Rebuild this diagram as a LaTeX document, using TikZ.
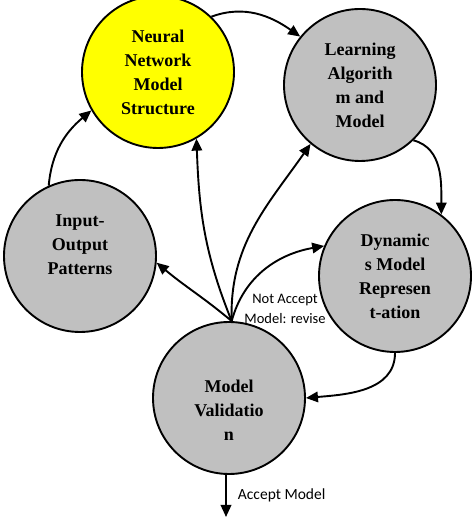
\documentclass[tikz,border=0pt]{standalone}
\usepackage{fontspec}
\setmainfont{Liberation Serif}
\newfontfamily\notefont{Carlito}
\usetikzlibrary{arrows.meta}
\definecolor{stategray}{HTML}{C0C0C0}
\definecolor{stateyellow}{HTML}{FFFF00}
\begin{document}
\begin{tikzpicture}
[x=1pt,y=1pt,line width=1.9pt,%
  >={Triangle[length=12pt,width=10.5pt]},%
  state/.style={shape=circle,draw,line width=1.9pt,fill=stategray,minimum size=152pt,inner sep=0pt,%
    font=\bfseries\fontsize{18}{24}\selectfont,align=center},%
  note/.style={font=\notefont\fontsize{14.5}{20}\selectfont,align=center,inner sep=0pt}]
\useasboundingbox (0,0) rectangle (474,518);
% states
\node[state,fill=stateyellow] (neural) at (158,446) {Neural\\Network\\Model\\Structure};
\node[state] (learn) at (360,433) {Learning\\Algorith\\m and\\Model};
\node[state,label={[font=\bfseries\fontsize{18}{24}\selectfont,align=center,yshift=11pt]center:Input-\\Output\\Patterns}] (input) at (80,262) {};
\node[state] (dyn) at (395,242) {Dynamic\\s Model\\Represen\\t-ation};
\node[state,label={[font=\bfseries\fontsize{18}{24}\selectfont,align=center,yshift=-12pt]center:Model\\Validatio\\n}] (val) at (229,120) {};
\coordinate (rev) at (val.88);
\coordinate (accept) at (226,1);
% cycle
\draw[->] (neural.46) to[out=20,in=145] (learn.141);
\draw[->] (learn.-46) to[out=-15,in=90] (dyn.53);
\draw[->] (dyn.south) to[out=-90,in=5] (val.east);
\draw[->] (input.114) to[out=85,in=220] (neural.210);
% revise
\draw[->] (rev) to[out=140,in=-40] (input.-5);
\draw[->] (rev) to[out=112,in=-88] (neural.-60);
\draw[->] (rev) to[out=92,in=235] (learn.230);
\draw[->] (rev) to[out=75,in=190] (dyn.157);
\node[note] (revnote) at (285,209) {Not Accept\\Model: revise};
% accept
\draw[->] (val.south -| accept) -- (accept);
\node[note,anchor=west,font=\notefont\fontsize{15.5}{20}\selectfont] (acceptnote) at (237,23) {Accept Model};
\end{tikzpicture}
\end{document}
